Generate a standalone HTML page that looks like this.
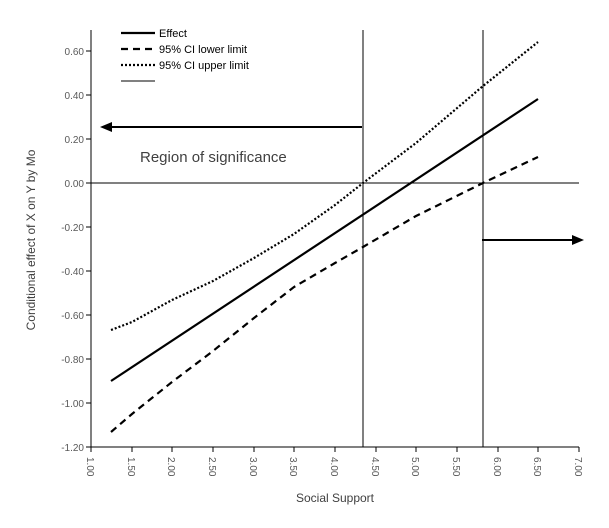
<!DOCTYPE html>
<html><head><style>body{margin:0;background:#fff}svg{display:block}text{font-family:"Liberation Sans",sans-serif}</style></head><body>
<svg width="609" height="528" viewBox="0 0 609 528">
<g font-size="10" fill="#595959" text-anchor="end">
<text x="84" y="55">0.60</text><text x="84" y="99">0.40</text><text x="84" y="143">0.20</text><text x="84" y="187">0.00</text><text x="84" y="231">-0.20</text><text x="84" y="275">-0.40</text><text x="84" y="319">-0.60</text><text x="84" y="363">-0.80</text><text x="84" y="407">-1.00</text><text x="84" y="451">-1.20</text>
</g>
<g font-size="10" fill="#595959">
<text transform="translate(87,457) rotate(90)">1.00</text>
<text transform="translate(128,457) rotate(90)">1.50</text>
<text transform="translate(168,457) rotate(90)">2.00</text>
<text transform="translate(209,457) rotate(90)">2.50</text>
<text transform="translate(250,457) rotate(90)">3.00</text>
<text transform="translate(290,457) rotate(90)">3.50</text>
<text transform="translate(331,457) rotate(90)">4.00</text>
<text transform="translate(372,457) rotate(90)">4.50</text>
<text transform="translate(412,457) rotate(90)">5.00</text>
<text transform="translate(453,457) rotate(90)">5.50</text>
<text transform="translate(494,457) rotate(90)">6.00</text>
<text transform="translate(534,457) rotate(90)">6.50</text>
<text transform="translate(575,457) rotate(90)">7.00</text>
</g>
<g stroke="#000" stroke-width="1">
<line x1="91" y1="30" x2="91" y2="447"/>
<line x1="91" y1="447" x2="579" y2="447"/>
<line x1="91" y1="183" x2="579" y2="183"/>
<line x1="363" y1="30" x2="363" y2="447"/>
<line x1="483" y1="30" x2="483" y2="447"/>
<g>
<line x1="91" y1="447" x2="91" y2="452"/><line x1="132" y1="447" x2="132" y2="452"/><line x1="172" y1="447" x2="172" y2="452"/><line x1="213" y1="447" x2="213" y2="452"/><line x1="254" y1="447" x2="254" y2="452"/><line x1="294" y1="447" x2="294" y2="452"/><line x1="335" y1="447" x2="335" y2="452"/><line x1="376" y1="447" x2="376" y2="452"/><line x1="416" y1="447" x2="416" y2="452"/><line x1="457" y1="447" x2="457" y2="452"/><line x1="498" y1="447" x2="498" y2="452"/><line x1="538" y1="447" x2="538" y2="452"/><line x1="579" y1="447" x2="579" y2="452"/>
</g>
<g>
<line x1="86" y1="51" x2="91" y2="51"/><line x1="86" y1="95" x2="91" y2="95"/><line x1="86" y1="139" x2="91" y2="139"/><line x1="86" y1="183" x2="91" y2="183"/><line x1="86" y1="227" x2="91" y2="227"/><line x1="86" y1="271" x2="91" y2="271"/><line x1="86" y1="315" x2="91" y2="315"/><line x1="86" y1="359" x2="91" y2="359"/><line x1="86" y1="403" x2="91" y2="403"/><line x1="86" y1="447" x2="91" y2="447"/>
</g>
</g>
<g fill="none" stroke="#000" stroke-width="2.2">
<polyline points="111,381 538,99"/>
<polyline stroke-dasharray="7,5" points="111,432 132,414 172,382 213,351 254,318 294,287 335,263 363,247 416,216 483,183 538,157"/>
<polyline stroke-dasharray="2,2" points="111,330 132,322 172,300 213,281 254,258 294,234 335,205 363,183 416,143 483,86 538,42"/>
<line x1="121" y1="33" x2="155" y2="33"/>
<line x1="121" y1="49" x2="155" y2="49" stroke-dasharray="7,5"/>
<line x1="121" y1="65" x2="155" y2="65" stroke-dasharray="2,2"/>
</g>
<line x1="121" y1="81" x2="155" y2="81" stroke="#000" stroke-width="1"/>
<g font-size="11" fill="#000">
<text x="159" y="37">Effect</text><text x="159" y="53">95% CI lower limit</text><text x="159" y="69">95% CI upper limit</text>
</g>
<g stroke="#000" stroke-width="2" fill="#000">
<line x1="110" y1="127" x2="362" y2="127"/><polygon points="100,127 112,122 112,132" stroke="none"/>
<line x1="482" y1="240" x2="574" y2="240"/><polygon points="584,240 572,235 572,245" stroke="none"/>
</g>
<text x="140" y="162" font-size="15" fill="#404040">Region of significance</text>
<text x="335" y="502" font-size="12" fill="#404040" text-anchor="middle">Social Support</text>
<text transform="translate(35,240) rotate(-90)" font-size="12" fill="#404040" text-anchor="middle">Conditional effect of X on Y by Mo</text>
</svg>
</body></html>
